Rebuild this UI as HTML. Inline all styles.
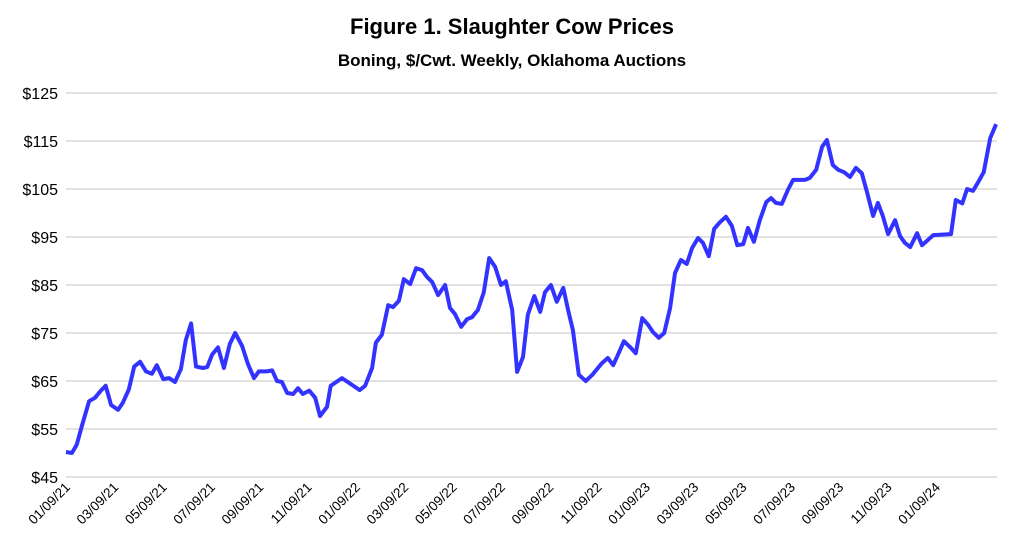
<!DOCTYPE html>
<html><head><meta charset="utf-8"><style>
body{margin:0;background:#fff;}
svg{display:block;font-family:"Liberation Sans",sans-serif;}
</style></head><body>
<svg id="chart" width="1024" height="557" viewBox="0 0 1024 557">
<text x="512" y="34" text-anchor="middle" font-size="22" font-weight="bold" fill="#000">Figure 1. Slaughter Cow Prices</text>
<text x="512" y="66" text-anchor="middle" font-size="17" font-weight="bold" fill="#000">Boning, $/Cwt. Weekly, Oklahoma Auctions</text>
<g id="grid"></g>
<g id="yaxis"></g>
<g id="xaxis"></g>
<g id="series"></g>
</svg>
<script>
const weeks=[0,1.1,2.0,3.0,4.3,5.4,6.5,7.4,8.4,9.7,10.6,11.7,12.7,13.8,14.9,16.0,16.9,18.1,19.2,20.3,21.4,22.3,23.3,24.2,25.5,26.3,27.2,28.3,29.4,30.5,31.5,32.8,33.9,35.0,35.9,37.4,38.4,39.3,40.2,41.2,42.3,43.2,44.1,45.3,46.4,47.3,48.6,49.3,51.4,54.7,55.7,57.0,57.7,58.8,60.0,60.9,62.0,62.9,64.1,65.2,66.3,67.2,68.2,69.3,70.6,71.5,72.4,73.6,74.7,75.6,76.7,77.8,78.8,79.9,81.0,81.9,83.1,84.0,85.1,86.0,87.2,88.3,89.2,90.3,91.4,92.6,93.5,94.4,95.5,96.8,98.0,98.9,99.8,100.9,101.9,103.0,103.9,105.0,106.1,107.3,108.4,109.3,110.4,111.4,112.5,113.4,114.5,115.6,116.6,117.7,118.6,119.7,120.7,121.8,122.9,124.0,125.0,126.1,127.0,128.1,129.2,130.4,131.3,132.2,133.3,134.5,135.4,137.6,138.5,139.7,140.8,141.7,142.8,143.8,144.9,146.0,147.1,148.2,149.2,150.3,151.2,152.1,153.1,154.4,155.3,156.2,157.2,158.5,159.4,161.5,164.8,165.7,166.9,167.8,168.9,169.8,170.9,172.1,173.2];
const prices=[50.2,50,51.7,55.8,60.8,61.5,63,64,60,59,60.5,63.2,68,69,67,66.5,68.3,65.4,65.6,64.8,67.5,73.5,77,68,67.7,67.9,70.5,72,67.7,72.7,75,72.3,68.5,65.6,67,67,67.2,65,64.8,62.5,62.3,63.5,62.3,63,61.5,57.7,59.6,64,65.6,63.1,64,67.7,73,74.6,80.8,80.4,81.7,86.2,85.2,88.5,88.1,86.7,85.6,82.9,85,80.2,79,76.3,77.9,78.3,79.8,83.5,90.6,88.8,85,85.8,79.8,66.9,70,78.8,82.7,79.4,83.5,85,81.5,84.4,79.8,75.6,66.3,65,66.3,67.5,68.7,69.8,68.3,71,73.3,72.1,70.8,78.1,76.7,75.2,74,75,80.2,87.5,90.2,89.4,92.7,94.8,93.8,91,96.7,98.1,99.2,97.3,93.3,93.5,96.9,94,98.5,102.3,103.1,102.1,101.9,105,106.9,106.9,107.3,109,113.8,115.2,110,109,108.5,107.5,109.4,108.3,104.2,99.4,102.1,99.4,95.6,98.5,95.2,93.8,92.9,95.8,93.3,95.4,95.6,102.7,102,105,104.6,106.3,108.5,115.6,118.5];
const yTicks=[45,55,65,75,85,95,105,115,125];
const xTickLabels=["01/09/21","03/09/21","05/09/21","07/09/21","09/09/21","11/09/21","01/09/22","03/09/22","05/09/22","07/09/22","09/09/22","11/09/22","01/09/23","03/09/23","05/09/23","07/09/23","09/09/23","11/09/23","01/09/24"];
const X0=66,X1=997,W0=0,W1=173.37,Y0=477,Y1=93,V0=45,V1=125;
const xs=w=>X0+(w-W0)/(W1-W0)*(X1-X0);
const ys=v=>Y0-(v-V0)/(V1-V0)*(Y0-Y1);
const NS="http://www.w3.org/2000/svg";
const grid=document.getElementById('grid'),ya=document.getElementById('yaxis'),xa=document.getElementById('xaxis'),ser=document.getElementById('series');
yTicks.forEach(t=>{
 const l=document.createElementNS(NS,'line');
 
 
 l.setAttribute('x1',X0);l.setAttribute('x2',X1);l.setAttribute('y1',ys(t));l.setAttribute('y2',ys(t));
 l.setAttribute('stroke','#d9d9d9');l.setAttribute('stroke-width','1.5');grid.appendChild(l);
 const tx=document.createElementNS(NS,'text');
 
 
 tx.setAttribute('x',58);tx.setAttribute('y',ys(t)+6);tx.setAttribute('text-anchor','end');tx.setAttribute('font-size','16');
 tx.textContent='$'+t;ya.appendChild(tx);
});
xTickLabels.forEach((s,i)=>{
 const x=xs(i*9)+5;
 const tx=document.createElementNS(NS,'text');
 
 
 tx.setAttribute('transform','translate('+x+',488) rotate(-45)');
 tx.setAttribute('text-anchor','end');tx.setAttribute('font-size','13.5');
 tx.textContent=s;xa.appendChild(tx);
});
const p=document.createElementNS(NS,'path');


p.setAttribute('d',weeks.map((w,i)=>(i?'L':'M')+xs(w).toFixed(1)+' '+ys(prices[i]).toFixed(1)).join(''));
p.setAttribute('fill','none');p.setAttribute('stroke','#3333ff');p.setAttribute('stroke-width','4');p.setAttribute('stroke-linejoin','round');
ser.appendChild(p);
</script>
</body></html>
